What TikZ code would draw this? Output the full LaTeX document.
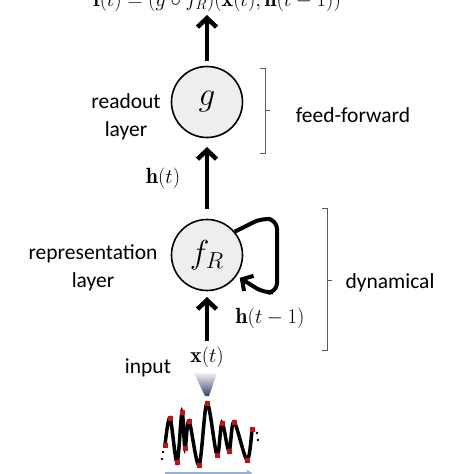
\documentclass[tikz,border=0pt]{standalone}
\usepackage{fontspec}
\usepackage{amsmath}
\usepackage{graphicx}
\newfontfamily\lblfont{Carlito}
\usetikzlibrary{arrows.meta,calc}
\newcommand{\neuronmath}[1]{\scalebox{1.6}{$#1$}}
\begin{document}
\begin{tikzpicture}[x=1pt,y=-1pt,
  neuron/.style={circle,draw,line width=1.6pt,fill=gray!13,minimum size=71pt,inner sep=0pt,font=\fontsize{22}{24}\selectfont},
  bigarrow/.style={line width=4.5pt,-{Straight Barb[length=9pt,width=19pt]}},
  lbl/.style={font=\lblfont\fontsize{21.5}{28}\selectfont,align=center,inner sep=0pt},
  mathlbl/.style={font=\fontsize{22}{24}\selectfont,inner sep=0pt},
  brk/.style={line width=1pt,draw=gray!70!black},
  wave/.style={line width=3.5pt,black},
  marker/.style={fill={rgb,255:red,190;green,20;blue,20},draw=none,minimum size=5pt,inner sep=0pt,rectangle}
]
\useasboundingbox (0,0) rectangle (474,474);
\clip (0,0) rectangle (474,474);

% output formula
\node[mathlbl,anchor=base] (out) at (217,6) {$\mathbf{f}(t)=(g\circ f_R)(\mathbf{x}(t),\mathbf{h}(t-1))$};

% neurons
\node[neuron] (g) at (207,102) {\neuronmath{g}};
\node[neuron] (fR) at (207,255) {\neuronmath{f_R}};

% arrows
\coordinate (topTip) at (207,15);
\coordinate (topTail) at (207,61);
\draw[bigarrow] (topTail) -- (topTip);
\coordinate (midTail) at (207,209);
\coordinate (midTip) at (207,147);
\draw[bigarrow] (midTail) -- (midTip);
\coordinate (inTail) at (207,341);
\coordinate (inTip) at (207,297);
\draw[bigarrow] (inTail) -- (inTip);

% self loop
\coordinate (l1) at (262,218);
\coordinate (l2) at (277,220);
\coordinate (l3) at (277,292);
\coordinate (l4) at (264,293);
\coordinate (lend) at ($(fR.-35)+(3,2)$);
\draw[line width=4pt,rounded corners=9pt,-{Straight Barb[length=8pt,width=18pt]}]
  (fR.40) -- (l1) -- (l2) -- (l3) -- (l4) -- (lend);

% labels
\node[mathlbl] (ht) at (163,178) {$\mathbf{h}(t)$};
\node[mathlbl] (ht1) at (270,318) {$\mathbf{h}(t-1)$};
\node[mathlbl] (xt) at (207,357) {$\mathbf{x}(t)$};
\node[lbl] (readout) at (126,117) {readout\\layer};
\node[lbl] (repr) at (93,268) {representation\\layer};
\node[lbl] (ff) at (353,115) {feed-forward};
\node[lbl] (dyn) at (390,283) {dynamical};
\node[lbl] (inp) at (148,368) {input};

% brackets
\draw[brk] (260,68) -- (265,68) -- (265,153) -- (260,153);
\draw[brk] (265,110) -- (270,110);
\draw[brk] (322,208) -- (327,208) -- (327,350) -- (322,350);
\draw[brk] (327,280) -- (332,280);

% funnel
\shade[top color=gray!10, bottom color={rgb,255:red,55;green,70;blue,105}]
  (194,373) -- (217,373) -- (209,396) -- (205,396) -- cycle;

% signal
\draw[wave] plot[smooth,tension=0.55] coordinates {
 (165,445) (170,418) (177,462) (182,412) (185,448) (189,421) (199,465)
 (207,403) (217,455) (222,423) (229,451) (234,422) (247,460) (252,429)};
\foreach \p in {(165,445),(170,418),(177,462),(182,412),(185,448),(189,421),(199,465),
 (207,403),(217,455),(222,423),(229,451),(234,422),(247,460),(252,429)}
  \node[marker] at \p {};
\fill (163,452) circle (1.3pt);
\fill (162,459) circle (1.3pt);
\fill (257,433) circle (1.3pt);
\fill (258,440) circle (1.3pt);

% time axis
\draw[line width=3pt,draw={rgb,255:red,150;green,175;blue,215},-{Latex[length=6pt,width=7pt]}] (165,473) -- (253,473);
\end{tikzpicture}
\end{document}
